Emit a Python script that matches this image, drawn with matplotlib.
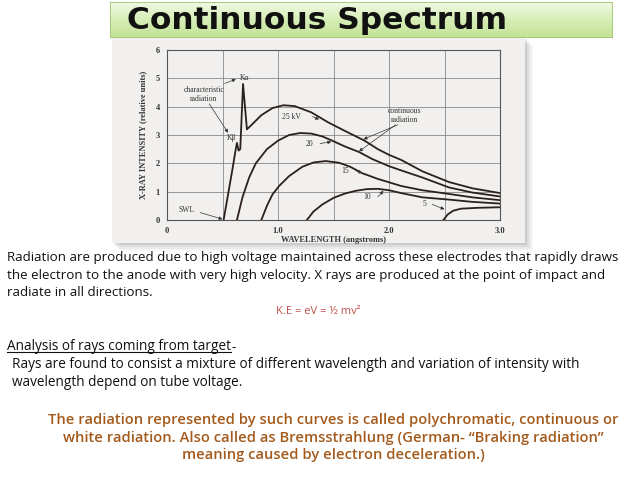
import numpy as np
import matplotlib
matplotlib.use("Agg")
import matplotlib.pyplot as plt
from matplotlib.patches import Rectangle
from matplotlib.lines import Line2D
from matplotlib.colors import LinearSegmentedColormap

# --- veriler ---
wl_25 = [0.51, 0.55, 0.59, 0.615, 0.63, 0.645, 0.66, 0.685, 0.72, 0.76, 0.85, 0.95, 1.05,
         1.15, 1.3, 1.45, 1.6, 1.78, 1.9, 2.0, 2.11, 2.3, 2.54, 2.75, 3.0]
int_25 = [0.0, 0.9, 1.8, 2.4, 2.72, 2.45, 2.5, 4.8, 3.2, 3.35, 3.7, 3.95, 4.05,
          4.02, 3.8, 3.45, 3.15, 2.8, 2.5, 2.3, 2.12, 1.72, 1.34, 1.12, 0.95]
wl_20 = [0.63, 0.68, 0.74, 0.8, 0.9, 1.0, 1.1, 1.2, 1.3, 1.4, 1.5, 1.6, 1.73, 1.85,
         2.0, 2.11, 2.3, 2.54, 2.75, 3.0]
int_20 = [0.0, 0.8, 1.5, 2.0, 2.5, 2.8, 3.0, 3.07, 3.05, 2.95, 2.78, 2.6, 2.4, 2.15,
          1.9, 1.75, 1.5, 1.15, 0.97, 0.83]
wl_15 = [0.85, 0.9, 0.95, 1.01, 1.1, 1.22, 1.32, 1.43, 1.55, 1.65, 1.76, 1.9, 2.11,
         2.3, 2.54, 2.75, 3.0]
int_15 = [0.0, 0.5, 0.9, 1.2, 1.55, 1.88, 2.03, 2.08, 2.02, 1.88, 1.65, 1.45, 1.2,
          1.05, 0.92, 0.8, 0.7]
wl_10 = [1.26, 1.32, 1.4, 1.5, 1.6, 1.7, 1.8, 1.9, 2.0, 2.11, 2.3, 2.54, 2.75, 3.0]
int_10 = [0.0, 0.3, 0.55, 0.78, 0.93, 1.03, 1.09, 1.1, 1.05, 0.95, 0.8, 0.72, 0.64, 0.58]
wl_5 = [2.49, 2.53, 2.58, 2.65, 2.8, 3.0]
int_5 = [0.0, 0.2, 0.33, 0.4, 0.43, 0.45]

curves = [(wl_25, int_25), (wl_20, int_20), (wl_15, int_15), (wl_10, int_10), (wl_5, int_5)]

# etiket: (metin, metin konumu, ok ucu)
kv_labels = [("25 kV", (1.12, 3.65), (1.37, 3.55)),
             ("20", (1.28, 2.70), (1.48, 2.76)),
             ("15", (1.60, 1.74), (1.76, 1.66)),
             ("10", (1.80, 0.82), (1.95, 1.03)),
             ("5", (2.32, 0.55), (2.50, 0.38))]

x_ticks = [0, 1, 2, 3]
x_tick_labels = ["0", "1.0", "2.0", "3.0"]
y_ticks = [0, 1, 2, 3, 4, 5, 6]

title = "Continuous Spectrum"
para1 = ["Radiation are produced due to high voltage maintained across these electrodes that rapidly draws",
         "the electron to the anode with very high velocity. X rays are produced at the point of impact and",
         "radiate in all directions."]
formula = "K.E = eV = \u00bd mv\u00b2"
heading = "Analysis of rays coming from target"
para2 = ["Rays are found to consist a mixture of different wavelength and variation of intensity with",
         "wavelength depend on tube voltage."]
para3 = ["The radiation represented by such curves is called polychromatic, continuous or",
         "white radiation. Also called as Bremsstrahlung (German- \u201cBraking radiation\u201d",
         "meaning caused by electron deceleration.)"]

W, H = 638, 478
fig = plt.figure(figsize=(W / 100, H / 100), dpi=100)
fig.patch.set_facecolor("white")


def fy(px):
    return 1 - px / H


def fit(texts, target_px):
    r = fig.canvas.get_renderer()
    w = texts[0].get_window_extent(r).width
    size = texts[0].get_fontsize() * target_px / w
    for t in texts:
        t.set_fontsize(size)


# --- baslik kutusu ---
tax = fig.add_axes([110 / W, fy(38), 503 / W, 36 / H])
cm = LinearSegmentedColormap.from_list("g", ["#f0f9e4", "#d6eeb6", "#c2e296"])
tax.imshow(np.linspace(0, 1, 60).reshape(-1, 1), aspect="auto", cmap=cm,
           extent=[0, 1, 0, 1], origin="upper")
tax.add_patch(Rectangle((0, 0), 1, 1, transform=tax.transAxes, fill=False,
                        edgecolor="#9fc472", lw=1.2))
tax.set_axis_off()
tt = fig.text(317 / W, fy(29), title, ha="center", va="baseline", fontsize=20,
              family="DejaVu Sans", weight="bold", color="#111111")
fit([tt], 380)

# --- fotograf zemini ve golgesi ---
for i, a in enumerate([0.05, 0.07, 0.09, 0.12]):
    off = 8 - 2 * i
    fig.patches.append(Rectangle(((112 + off) / W, fy(243 + off)), 413 / W, 206 / H,
                                 transform=fig.transFigure, facecolor="#555555",
                                 alpha=a, edgecolor="none", zorder=-2))
fig.patches.append(Rectangle((112 / W, fy(243)), 413 / W, 206 / H,
                             transform=fig.transFigure, facecolor="#f1f0ee",
                             edgecolor="none", zorder=-1))

# --- grafik ---
ax = fig.add_axes([167 / W, fy(220), 333 / W, 170 / H])
ax.set_facecolor("none")
ink = "#2a2020"
for wl, inten in curves:
    ax.plot(wl, inten, color=ink, lw=1.3, solid_joinstyle="round")

ax.set_xlim(0, 3.0)
ax.set_ylim(0, 6)
ax.set_xticks(x_ticks)
ax.set_xticklabels(x_tick_labels)
ax.set_xticks([0.5, 1.5, 2.5], minor=True)
ax.set_yticks(y_ticks)
ax.grid(which="both", color="#8a8a8a", lw=0.6)
ax.tick_params(which="both", length=0, labelsize=6, colors="#333333", pad=5)
for lab in ax.get_xticklabels() + ax.get_yticklabels():
    lab.set_family("Liberation Serif")
    lab.set_weight("bold")
for s in ax.spines.values():
    s.set_color("#555555")
    s.set_linewidth(0.8)
ax.set_xlabel("WAVELENGTH (angstroms)", family="Liberation Serif", fontsize=6,
              weight="bold", color="#333333", labelpad=1)
ax.set_ylabel("X-RAY INTENSITY (relative units)", family="Liberation Serif",
              fontsize=6, weight="bold", color="#333333", labelpad=6)

serif = dict(family="Liberation Serif", fontsize=5.5, color="#333333")
arrow = dict(arrowstyle="-|>", lw=0.5, color="#333333", mutation_scale=5,
             shrinkA=0, shrinkB=0)
for txt, pos, tip in kv_labels:
    t = ax.text(pos[0], pos[1], txt, ha="center", va="center", **serif)
    ax.annotate("", xy=tip, xytext=(pos[0] + 0.03 * len(txt) + 0.04, pos[1]),
                arrowprops=arrow)

ax.text(2.14, 3.86, "continuous", ha="center", va="center", **serif)
ax.text(2.14, 3.54, "radiation", ha="center", va="center", **serif)
ax.annotate("", xy=(1.77, 2.85), xytext=(2.08, 3.36), arrowprops=arrow)
ax.annotate("", xy=(1.73, 2.42), xytext=(2.06, 3.36), arrowprops=arrow)

ax.text(0.33, 4.58, "characteristic", ha="center", va="center", **serif)
ax.text(0.33, 4.26, "radiation", ha="center", va="center", **serif)
ax.text(0.70, 5.02, "K\u03b1", ha="center", va="center", **serif)
ax.text(0.58, 2.88, "K\u03b2", ha="center", va="center", **serif)
ax.annotate("", xy=(0.62, 4.97), xytext=(0.52, 4.82), arrowprops=arrow)
ax.annotate("", xy=(0.55, 3.08), xytext=(0.38, 4.10), arrowprops=arrow)
ax.text(0.18, 0.36, "SWL", ha="center", va="center", **serif)
ax.annotate("", xy=(0.50, 0.03), xytext=(0.30, 0.26), arrowprops=arrow)

# --- metinler ---
body = dict(family="Open Sans", fontsize=9, color="#111111", ha="left", va="center")
p1 = [fig.text(7 / W, fy(y), s, **body) for s, y in zip(para1, [257, 275, 293])]
fit(p1, 616)

fig.text(318 / W, fy(312), formula, ha="center", va="center", family="Open Sans",
         fontsize=8, color="#c0504d")

th = fig.text(7 / W, fy(347), heading, **body)
p2 = [fig.text(12 / W, fy(y), s, **body) for s, y in zip(para2, [365, 383])]
fit(p2, 571)
th.set_fontsize(p2[0].get_fontsize())
r = fig.canvas.get_renderer()
bb = th.get_window_extent(r)
fig.text((bb.x1 + 1) / W, fy(347), "-", **body).set_fontsize(p2[0].get_fontsize())
fig.lines.append(Line2D([bb.x0 / W, bb.x1 / W], [(bb.y0 + 3) / H] * 2,
                        transform=fig.transFigure, color="#111111", lw=0.8))

brown = dict(family="Open Sans", fontsize=10, color="#a35a1c", ha="center",
             va="center", weight="semibold")
p3 = [fig.text(333 / W, fy(y), s, **brown) for s, y in zip(para3, [420, 438, 455])]
fit(p3, 570)

fig.savefig("out.png", dpi=100, facecolor="white")
